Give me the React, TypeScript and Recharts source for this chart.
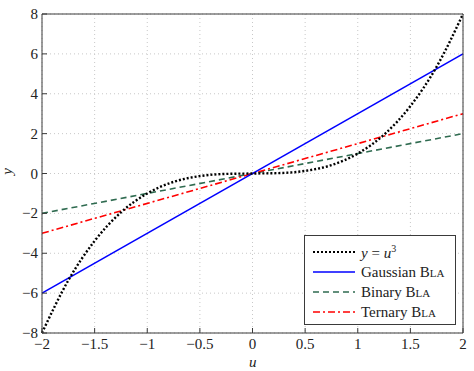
import { LineChart, Line, XAxis, YAxis, CartesianGrid } from "recharts";

const uTicks = [-2, -1.5, -1, -0.5, 0, 0.5, 1, 1.5, 2];
const yTicks = [-8, -6, -4, -2, 0, 2, 4, 6, 8];

// y = u^3
const cubicU = [-2, -1.75, -1.5, -1.25, -1, -0.75, -0.5, -0.25, 0, 0.25, 0.5, 0.75, 1, 1.25, 1.5, 1.75, 2];
const cubicY = [-8, -5.36, -3.38, -1.95, -1, -0.42, -0.13, -0.02, 0, 0.02, 0.13, 0.42, 1, 1.95, 3.38, 5.36, 8];

const lineU = [-2, 2];
const gaussianY = [-6, 6];
const binaryY = [-2, 2];
const ternaryY = [-3, 3];

const cubicData = cubicU.map((u, i) => ({ u, y: cubicY[i] }));
const gaussianData = lineU.map((u, i) => ({ u, y: gaussianY[i] }));
const binaryData = lineU.map((u, i) => ({ u, y: binaryY[i] }));
const ternaryData = lineU.map((u, i) => ({ u, y: ternaryY[i] }));

const FONT = "'Liberation Serif', 'DejaVu Serif', serif";
const AXIS = "#3a3a3a";
const fmt = (v: number) => String(v).replace("-", "\u2212");

const BottomTick = (props: any) => {
  const { x, y, payload } = props;
  return (
    <g>
      <line x1={x} y1={y} x2={x} y2={y - 5} stroke={AXIS} />
      <text x={x} y={y + 16} textAnchor="middle" fontSize={15} fill="#222" fontFamily={FONT}>
        {fmt(payload.value)}
      </text>
    </g>
  );
};

const LeftTick = (props: any) => {
  const { x, y, payload } = props;
  return (
    <g>
      <line x1={x} y1={y} x2={x + 5} y2={y} stroke={AXIS} />
      <text x={x - 4} y={y + 5} textAnchor="end" fontSize={15} fill="#222" fontFamily={FONT}>
        {fmt(payload.value)}
      </text>
    </g>
  );
};

const TopTick = (props: any) => {
  const { x, y } = props;
  return <line x1={x} y1={y} x2={x} y2={y + 5} stroke={AXIS} />;
};

const RightTick = (props: any) => {
  const { x, y } = props;
  return <line x1={x} y1={y} x2={x - 5} y2={y} stroke={AXIS} />;
};

const legendRows = [
  { key: "cubic", color: "#000", dash: "2 2", width: 2.2 },
  { key: "gauss", color: "#0000ff", dash: undefined, width: 1.6 },
  { key: "binary", color: "#2f6b50", dash: "6 4", width: 1.6 },
  { key: "ternary", color: "#ff0000", dash: "7 3 2 3", width: 1.6 },
];

const legendLabel = (key: string) => {
  if (key === "cubic")
    return (
      <span>
        <i>y</i> = <i>u</i>
        <sup style={{ fontSize: 10 }}>3</sup>
      </span>
    );
  const name = key === "gauss" ? "Gaussian" : key === "binary" ? "Binary" : "Ternary";
  return (
    <span>
      {name} <span style={{ fontVariant: "small-caps" }}>Bla</span>
    </span>
  );
};

export default function App() {
  return (
    <div style={{ position: "absolute", left: 0, top: 0, width: 474, height: 371, background: "#fff" }}>
      <LineChart width={474} height={371} margin={{ top: 0, right: 0, bottom: 0, left: 0 }}>
        <CartesianGrid stroke="#c8c8c8" strokeDasharray="1 3" />
        <XAxis
          dataKey="u"
          type="number"
          domain={[-2, 2]}
          ticks={uTicks}
          height={38}
          tickSize={0}
          tickMargin={0}
          stroke={AXIS}
          tick={<BottomTick />}
          allowDuplicatedCategory={false}
        />
        <XAxis
          xAxisId="top"
          orientation="top"
          type="number"
          domain={[-2, 2]}
          ticks={uTicks}
          height={14}
          tickSize={0}
          tickMargin={0}
          stroke={AXIS}
          tick={<TopTick />}
        />
        <YAxis
          type="number"
          domain={[-8, 8]}
          ticks={yTicks}
          width={42}
          tickSize={0}
          tickMargin={0}
          stroke={AXIS}
          tick={<LeftTick />}
        />
        <YAxis
          yAxisId="right"
          orientation="right"
          type="number"
          domain={[-8, 8]}
          ticks={yTicks}
          width={11}
          tickSize={0}
          tickMargin={0}
          stroke={AXIS}
          tick={<RightTick />}
        />
        <Line data={binaryData} dataKey="y" stroke="#2f6b50" strokeWidth={1.6} strokeDasharray="6 4" dot={false} isAnimationActive={false} />
        <Line data={ternaryData} dataKey="y" stroke="#ff0000" strokeWidth={1.6} strokeDasharray="7 3 2 3" dot={false} isAnimationActive={false} />
        <Line data={gaussianData} dataKey="y" stroke="#0000ff" strokeWidth={1.6} dot={false} isAnimationActive={false} />
        <Line data={cubicData} type="monotone" dataKey="y" stroke="#000" strokeWidth={2.4} strokeDasharray="2 2" dot={false} isAnimationActive={false} />
      </LineChart>
      <div
        style={{
          position: "absolute",
          left: 4,
          top: 163,
          transform: "rotate(-90deg)",
          fontFamily: FONT,
          fontStyle: "italic",
          fontSize: 15,
          color: "#222",
        }}
      >
        y
      </div>
      <div
        style={{
          position: "absolute",
          left: 249,
          top: 355,
          fontFamily: FONT,
          fontStyle: "italic",
          fontSize: 15,
          lineHeight: "15px",
          color: "#222",
        }}
      >
        u
      </div>
      <div
        style={{
          position: "absolute",
          left: 304,
          top: 235,
          width: 152,
          height: 90,
          border: `1px solid ${AXIS}`,
          background: "#fff",
          fontFamily: FONT,
          fontSize: 15,
          color: "#222",
          padding: "6px 0 0 8px",
          boxSizing: "border-box",
        }}
      >
        {legendRows.map((r) => (
          <div key={r.key} style={{ display: "flex", alignItems: "center", height: 20 }}>
            <svg width={42} height={10} style={{ marginRight: 6 }}>
              <line x1={0} y1={5} x2={42} y2={5} stroke={r.color} strokeWidth={r.width} strokeDasharray={r.dash} />
            </svg>
            {legendLabel(r.key)}
          </div>
        ))}
      </div>
    </div>
  );
}
